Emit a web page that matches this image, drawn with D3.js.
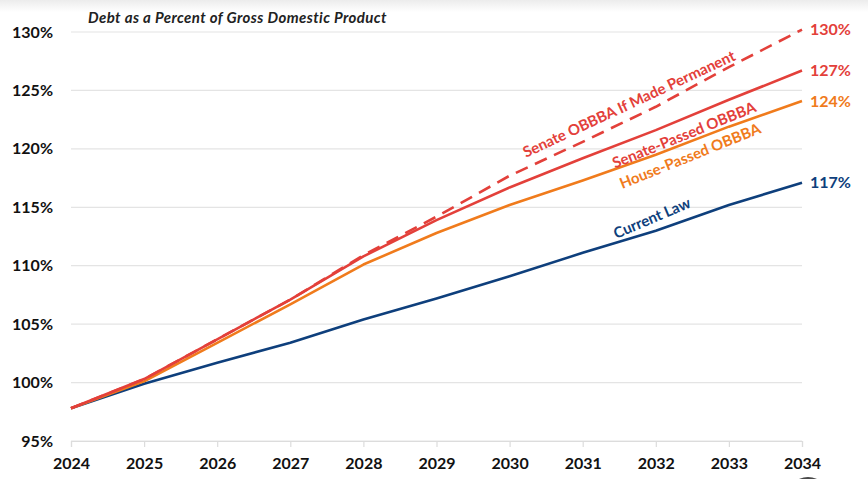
<!DOCTYPE html>
<html>
<head>
<meta charset="utf-8">
<script src="https://cdn.jsdelivr.net/npm/d3@7"></script>
<style>
  body { margin: 0; background: #fff; }
  svg { display: block; font-family: Lato, "Open Sans", sans-serif; }
</style>
</head>
<body>
<svg id="chart" width="868" height="479"></svg>
<script>
// data
var years = [2024, 2025, 2026, 2027, 2028, 2029, 2030, 2031, 2032, 2033, 2034];
var currentLaw = [97.8, 99.9, 101.7, 103.4, 105.4, 107.2, 109.1, 111.1, 113.0, 115.2, 117.1];
var housePassed = [97.8, 100.1, 103.4, 106.7, 110.1, 112.8, 115.2, 117.3, 119.5, 121.9, 124.1];
var senatePassed = [97.8, 100.3, 103.7, 107.1, 110.8, 113.9, 116.7, 119.2, 121.6, 124.2, 126.7];
var senatePermanent = [97.8, 100.3, 103.7, 107.1, 110.9, 114.2, 117.7, 120.6, 123.6, 127.0, 130.2];
var yTicks = [95, 100, 105, 110, 115, 120, 125, 130];
var endLabels = ['130%', '127%', '124%', '117%'];

var svg = d3.select('#chart');

// top grey shade
var defs = svg.append('defs');
var grad = defs.append('linearGradient').attr('id', 'shade')
  .attr('x1', 0).attr('y1', 0).attr('x2', 0).attr('y2', 1);
grad.append('stop').attr('offset', '0%').attr('stop-color', '#ececec');
grad.append('stop').attr('offset', '100%').attr('stop-color', '#ffffff');
svg.append('rect').attr('x', 0).attr('y', 0).attr('width', 868).attr('height', 12)
  .attr('fill', 'url(#shade)');

var x = d3.scaleLinear().domain([2024, 2034]).range([71, 802]);
var y = d3.scaleLinear().domain([95, 130]).range([441, 32]);

// gridlines
svg.append('g').selectAll('line').data(yTicks).enter().append('line')
  .attr('x1', x(2024)).attr('x2', x(2034))
  .attr('y1', d => y(d)).attr('y2', d => y(d))
  .attr('stroke', '#e4e4e4').attr('stroke-width', 1.2);

// y labels
svg.append('g').selectAll('text').data(yTicks).enter().append('text')
  .attr('x', 53).attr('y', d => y(d)).attr('dy', '0.35em')
  .attr('text-anchor', 'end')
  .attr('font-size', 16).attr('font-weight', 700).attr('fill', '#111')
  .text(d => d + '%');

// x axis
var xAxis = d3.axisBottom(x).tickValues(years).tickFormat(d3.format('d'))
  .tickSize(6).tickPadding(11);
var gx = svg.append('g').attr('transform', 'translate(0,' + y(95) + ')').call(xAxis);
gx.select('.domain').attr('stroke', '#dcdcdc').attr('stroke-width', 1.2);
gx.selectAll('.tick line').attr('stroke', '#dcdcdc').attr('stroke-width', 1.2);
gx.selectAll('.tick text')
  .attr('font-family', 'Lato, "Open Sans", sans-serif')
  .attr('font-size', 16).attr('font-weight', 700).attr('fill', '#111');

// title
svg.append('text').attr('x', 88).attr('y', 23)
  .attr('font-size', 15).attr('font-weight', 700).attr('font-style', 'italic')
  .attr('letter-spacing', 0.4)
  .attr('fill', '#222')
  .text('Debt as a Percent of Gross Domestic Product');

var red = '#e3403a', orange = '#f07b1c', navy = '#0e3f7c';

var series = [
  { name: 'perm', values: senatePermanent, color: red, dash: '13,8', label: endLabels[0] },
  { name: 'senate', values: senatePassed, color: red, dash: null, label: endLabels[1] },
  { name: 'house', values: housePassed, color: orange, dash: null, label: endLabels[2] },
  { name: 'current', values: currentLaw, color: navy, dash: null, label: endLabels[3] }
];

var line = d3.line()
  .x((d, i) => x(years[i]))
  .y(d => y(d));

// draw from bottom up so red sits on top
series.slice().reverse().forEach(function (s) {
  svg.append('path').datum(s.values)
    .attr('d', line)
    .attr('fill', 'none')
    .attr('stroke', s.color)
    .attr('stroke-width', 2.6)
    .attr('stroke-linejoin', 'round')
    .attr('stroke-dasharray', s.dash);
});

// end value labels
svg.append('g').selectAll('text').data(series).enter().append('text')
  .attr('x', x(2034) + 8)
  .attr('y', d => y(d.values[d.values.length - 1]))
  .attr('dy', '0.35em')
  .attr('font-size', 16).attr('font-weight', 700)
  .attr('fill', d => d.color)
  .text(d => d.label);

// rotated series names
var names = [
  { text: 'Senate OBBBA If Made Permanent', cx: 629, cy: 104, rot: -25, color: red },
  { text: 'Senate-Passed OBBBA', cx: 684, cy: 135, rot: -22, color: red },
  { text: 'House-Passed OBBBA', cx: 690, cy: 156, rot: -22, color: orange },
  { text: 'Current Law', cx: 652, cy: 218, rot: -23, color: navy }
];
svg.append('g').selectAll('text').data(names).enter().append('text')
  .attr('transform', d => 'translate(' + d.cx + ',' + d.cy + ') rotate(' + d.rot + ')')
  .attr('text-anchor', 'middle').attr('dy', '0.35em')
  .attr('font-size', 15).attr('font-weight', 700)
  .attr('fill', d => d.color)
  .text(d => d.text);

// partial logo bit at the bottom edge
svg.append('circle').attr('cx', 808).attr('cy', 499).attr('r', 22).attr('fill', '#4a4a4a');
</script>
</body>
</html>
